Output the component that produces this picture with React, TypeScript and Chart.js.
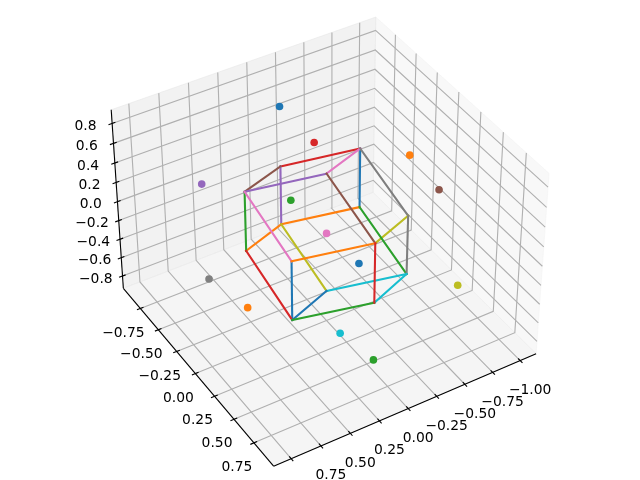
import React, { useEffect, useRef } from 'react';
import { Chart, registerables } from 'chart.js';

Chart.register(...registerables);

// lattice points, x / y / z
const pointX = [0, -0.5, 0.5, -0.5, 0.5, -1, 0, 1, -0.5, 0.5, -0.5, 0.5, 0];
const pointY = [-0.577, 0.289, 0.289, -0.866, -0.866, 0, 0, 0, 0.866, 0.866, -0.289, -0.289, 0.577];
const pointZ = [0.816, 0.816, 0.816, 0, 0, 0, 0, 0, 0, 0, -0.816, -0.816, -0.816];
const pointColors = ['#1f77b4', '#ff7f0e', '#2ca02c', '#d62728', '#9467bd', '#8c564b', '#e377c2', '#7f7f7f', '#bcbd22', '#17becf', '#1f77b4', '#ff7f0e', '#2ca02c'];

// corners of the cell
const cornerX = [0.5, -0.5, 0, 0, -0.5, 0.5, 0, 0.5, 0, -0.5, -0.5, 0, 0.5, 0];
const cornerY = [-0.289, -0.289, 0.577, -0.577, 0.289, 0.289, 0, -0.289, -0.577, -0.289, 0.289, 0.577, 0.289, 0];
const cornerZ = [0.408, 0.408, 0.408, 0.204, 0.204, 0.204, 0.612, -0.204, -0.408, -0.204, -0.408, -0.204, -0.408, -0.612];

// edges as corner indexes, in drawing order
const edgeFrom = [1, 7, 0, 1, 3, 3, 6, 1, 4, 11, 5, 8, 9, 7, 0, 6, 0, 4, 8, 13, 12, 5, 12, 2];
const edgeTo = [9, 8, 7, 3, 8, 0, 1, 4, 2, 10, 12, 9, 10, 12, 6, 2, 5, 10, 13, 10, 13, 2, 11, 11];
const edgeColors = ['#1f77b4', '#ff7f0e', '#2ca02c', '#d62728', '#9467bd', '#8c564b', '#e377c2', '#7f7f7f', '#bcbd22', '#17becf', '#1f77b4', '#ff7f0e', '#2ca02c', '#d62728', '#9467bd', '#8c564b', '#e377c2', '#7f7f7f', '#bcbd22', '#17becf', '#1f77b4', '#ff7f0e', '#2ca02c', '#d62728'];

const xTicks = [-1, -0.75, -0.5, -0.25, 0, 0.25, 0.5, 0.75, 1];
const xTickLabels = ['\u22121.00', '\u22120.75', '\u22120.50', '\u22120.25', '0.00', '0.25', '0.50', '0.75', ''];
const yTicks = [-0.75, -0.5, -0.25, 0, 0.25, 0.5, 0.75];
const yTickLabels = ['\u22120.75', '\u22120.50', '\u22120.25', '0.00', '0.25', '0.50', '0.75'];
const zTicks = [-0.8, -0.6, -0.4, -0.2, 0, 0.2, 0.4, 0.6, 0.8];
const zTickLabels = ['\u22120.8', '\u22120.6', '\u22120.4', '\u22120.2', '0.0', '0.2', '0.4', '0.6', '0.8'];

// axis limits and where the panes end
const limits = [1.1, 0.9526, 0.898];
const xPane = 1.1458;
const yPane = 0.992;
const zPane = 0.9355;

// camera, fitted against the picture
const AZIM = (58.5 * Math.PI) / 180;
const ELEV = (39.32 * Math.PI) / 180;
const BOX = [1.1905, 1.1905, 0.8929];
const DIST = 10;
const SCALE = 2491.5;
const CENTER_X = 326.55;
const CENTER_Y = 233.42;

const dot = (a: number[], b: number[]) => a[0] * b[0] + a[1] * b[1] + a[2] * b[2];

// same perspective that mplot3d uses
function project(x: number, y: number, z: number) {
  const s = [(x / limits[0]) * BOX[0] * 0.5, (y / limits[1]) * BOX[1] * 0.5, (z / limits[2]) * BOX[2] * 0.5];
  const u = [-Math.sin(AZIM), Math.cos(AZIM), 0];
  const v = [-Math.sin(ELEV) * Math.cos(AZIM), -Math.sin(ELEV) * Math.sin(AZIM), Math.cos(ELEV)];
  const w = [Math.cos(ELEV) * Math.cos(AZIM), Math.cos(ELEV) * Math.sin(AZIM), Math.sin(ELEV)];
  const d = DIST - dot(w, s);
  return { x: CENTER_X + (SCALE * dot(u, s)) / d, y: CENTER_Y - (SCALE * dot(v, s)) / d };
}

const path = (pts: number[][]) => pts.map((p) => project(p[0], p[1], p[2]));

const polyline = (pts: number[][], color: string, width: number) => ({
  data: path(pts),
  showLine: true,
  borderColor: color,
  borderWidth: width,
  pointRadius: 0,
  tension: 0,
  fill: false,
});

const pane = (pts: number[][], color: string) => ({
  data: path([...pts, pts[0]]),
  showLine: true,
  borderColor: color,
  borderWidth: 1,
  backgroundColor: color,
  pointRadius: 0,
  tension: 0,
  fill: 'shape',
});

function buildDatasets() {
  const sets: any[] = [];
  // panes
  sets.push(pane([[-xPane, -yPane, -zPane], [-xPane, yPane, -zPane], [-xPane, yPane, zPane], [-xPane, -yPane, zPane]], 'rgba(242,242,242,0.5)'));
  sets.push(pane([[-xPane, -yPane, -zPane], [xPane, -yPane, -zPane], [xPane, -yPane, zPane], [-xPane, -yPane, zPane]], 'rgba(230,230,230,0.5)'));
  sets.push(pane([[-xPane, -yPane, -zPane], [xPane, -yPane, -zPane], [xPane, yPane, -zPane], [-xPane, yPane, -zPane]], 'rgba(236,236,236,0.5)'));
  // grid
  xTicks.forEach((t) => sets.push(polyline([[t, yPane, -zPane], [t, -yPane, -zPane], [t, -yPane, zPane]], '#b0b0b0', 1.11)));
  yTicks.forEach((t) => sets.push(polyline([[xPane, t, -zPane], [-xPane, t, -zPane], [-xPane, t, zPane]], '#b0b0b0', 1.11)));
  zTicks.forEach((t) => sets.push(polyline([[xPane, -yPane, t], [-xPane, -yPane, t], [-xPane, yPane, t]], '#b0b0b0', 1.11)));
  // axis lines
  sets.push(polyline([[-xPane, yPane, -zPane], [xPane, yPane, -zPane]], '#000000', 1.11));
  sets.push(polyline([[xPane, -yPane, -zPane], [xPane, yPane, -zPane]], '#000000', 1.11));
  sets.push(polyline([[xPane, -yPane, -zPane], [xPane, -yPane, zPane]], '#000000', 1.11));
  // tick marks
  xTicks.forEach((t) => sets.push(polyline([[t, yPane + 0.026, -zPane], [t, yPane - 0.023, -zPane]], '#000000', 1.11)));
  yTicks.forEach((t) => sets.push(polyline([[xPane + 0.03, t, -zPane], [xPane - 0.027, t, -zPane]], '#000000', 1.11)));
  zTicks.forEach((t) => sets.push(polyline([[xPane + 0.03, -yPane, t], [xPane - 0.027, -yPane, t]], '#000000', 1.11)));
  // cell edges
  edgeFrom.forEach((a, i) => {
    const b = edgeTo[i];
    sets.push({
      ...polyline([[cornerX[a], cornerY[a], cornerZ[a]], [cornerX[b], cornerY[b], cornerZ[b]]], edgeColors[i], 2.08),
      borderCapStyle: 'square',
    });
  });
  // points
  sets.push({
    data: pointX.map((x, i) => project(x, pointY[i], pointZ[i])),
    showLine: false,
    pointRadius: 3.8,
    pointBorderWidth: 0,
    pointBackgroundColor: pointZ.map((_, i) => pointColors[i]),
  });
  // chart.js paints high order first
  sets.forEach((s, i) => {
    s.order = sets.length - i;
  });
  return sets;
}

const tickLabelPlugin = {
  id: 'tickLabels',
  afterDraw(chart: any) {
    const { ctx, scales } = chart;
    const put = (text: string, p: { x: number; y: number }, dx: number, dy: number) => {
      if (text) ctx.fillText(text, scales.x.getPixelForValue(p.x) + dx, scales.y.getPixelForValue(p.y) + dy);
    };
    ctx.save();
    ctx.font = '13.89px "DejaVu Sans"';
    ctx.fillStyle = '#000000';
    ctx.textAlign = 'center';
    ctx.textBaseline = 'middle';
    xTicks.forEach((t, i) => put(xTickLabels[i], project(t, yPane, -zPane), 10, 30));
    yTicks.forEach((t, i) => put(yTickLabels[i], project(xPane, t, -zPane), -17, 24.5));
    zTicks.forEach((t, i) => put(zTickLabels[i], project(xPane, -yPane, t), -26.7, 3));
    ctx.restore();
  },
};

export default function App() {
  const canvasRef = useRef<HTMLCanvasElement | null>(null);

  useEffect(() => {
    document.body.style.margin = '0';
    if (!canvasRef.current) return;
    const chart = new Chart(canvasRef.current, {
      type: 'scatter',
      data: { datasets: buildDatasets() },
      options: {
        animation: false,
        responsive: false,
        events: [],
        layout: { padding: 0, autoPadding: false },
        plugins: { legend: { display: false }, tooltip: { enabled: false } },
        scales: {
          x: { type: 'linear', display: false, min: 0, max: 640 },
          y: { type: 'linear', display: false, min: 0, max: 480, reverse: true },
        },
      },
      plugins: [tickLabelPlugin],
    } as any);
    return () => chart.destroy();
  }, []);

  return <canvas ref={canvasRef} width={640} height={480} style={{ display: 'block' }} />;
}
